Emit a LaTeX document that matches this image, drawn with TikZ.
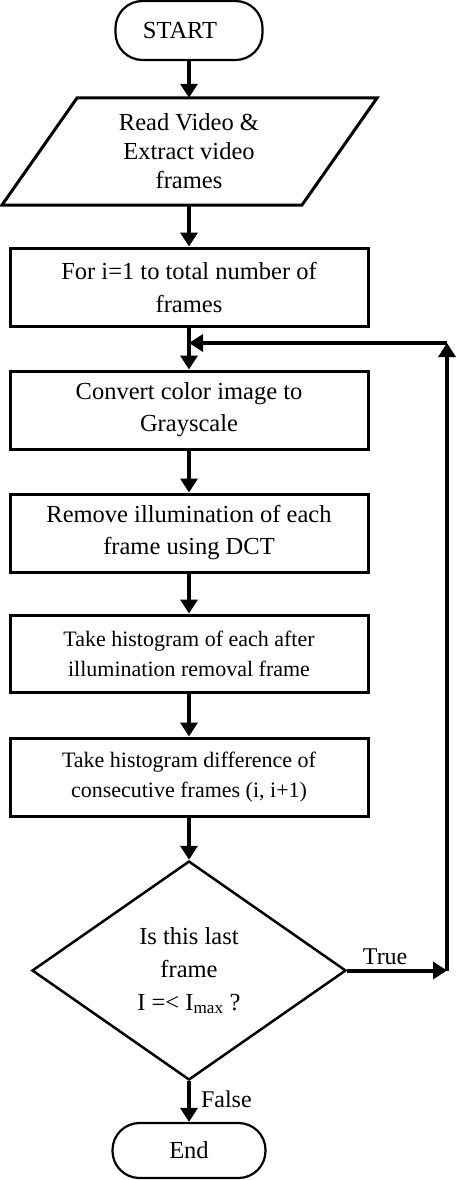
\documentclass[tikz,border=0pt]{standalone}
\usepackage{fontspec}
\setmainfont{Liberation Serif}
\usetikzlibrary{shapes.geometric,arrows.meta}
\begin{document}
\begin{tikzpicture}[x=1pt,y=-1pt,
  every node/.style={font=\fontsize{24.5}{33}\selectfont, align=center, inner sep=0pt},
  term/.style={draw, line width=2.2pt, rounded corners=27pt},
  procbox/.style={draw, line width=3pt, minimum width=358pt, minimum height=78pt},
  smalltxt/.style={font=\fontsize{22}{30}\selectfont},
  arr/.style={line width=4pt, -{Triangle[length=14pt,width=17pt]}},
  lbl/.style={font=\fontsize{24}{28}\selectfont}
]
\useasboundingbox (0,0) rectangle (456,1180);

\node[term, minimum width=147pt, minimum height=59pt] (start) at (189,30.5) {START\hspace*{18pt}};

\node[minimum width=300pt, minimum height=107pt, font=\fontsize{24.5}{29}\selectfont] (read) at (189,151.5) {Read Video \&\\Extract video\\frames};
\draw[line width=3pt, line join=miter] (77,98) -- (377,98) -- (302,205) -- (2,205) -- cycle;

\node[procbox] (b1) at (189,287) {For i=1 to total number of\\frames};
\node[procbox, font=\fontsize{24.5}{32}\selectfont] (b2) at (189,410) {Convert color image to\\Grayscale};
\node[procbox, font=\fontsize{24.5}{32}\selectfont] (b3) at (189,533) {Remove illumination of each\\frame using DCT};
\node[procbox, smalltxt, minimum height=77pt] (b4) at (189,653.5) {Take histogram of each after\\illumination removal frame};
\node[procbox, smalltxt] (b5) at (189,777) {Take histogram difference of\\consecutive frames (i, i+1)};

\node[diamond, draw, line width=2.5pt, minimum width=314pt, minimum height=219pt, aspect=1.4] (dec) at (189,970.5) {Is this last\\frame\\I =\textless{} I\textsubscript{max} ?};

\node[term, minimum width=153pt, minimum height=55pt] (end) at (189,1150.5) {End};

\coordinate (R) at (447,970.5);
\coordinate (T) at (447,343);
\coordinate (J) at (189,343);

\draw[arr] (start) -- (read);
\draw[arr] (read.south) -- (b1.north);
\draw[line width=4pt] (b1.south) -- (J);
\draw[arr] (J) -- (b2.north);
\draw[arr] (b2) -- (b3);
\draw[arr] (b3) -- (b4);
\draw[arr] (b4) -- (b5);
\draw[arr] (b5) -- (dec);
\draw[arr] (dec) -- node[lbl, right=10pt, pos=0.45] {False} (end);
\draw[arr] (dec.east) -- node[lbl, above=4pt, pos=0.38] {True} (R);
\draw[arr] (R) -- (T);
\draw[arr] (T) -- (J);
\end{tikzpicture}
\end{document}
